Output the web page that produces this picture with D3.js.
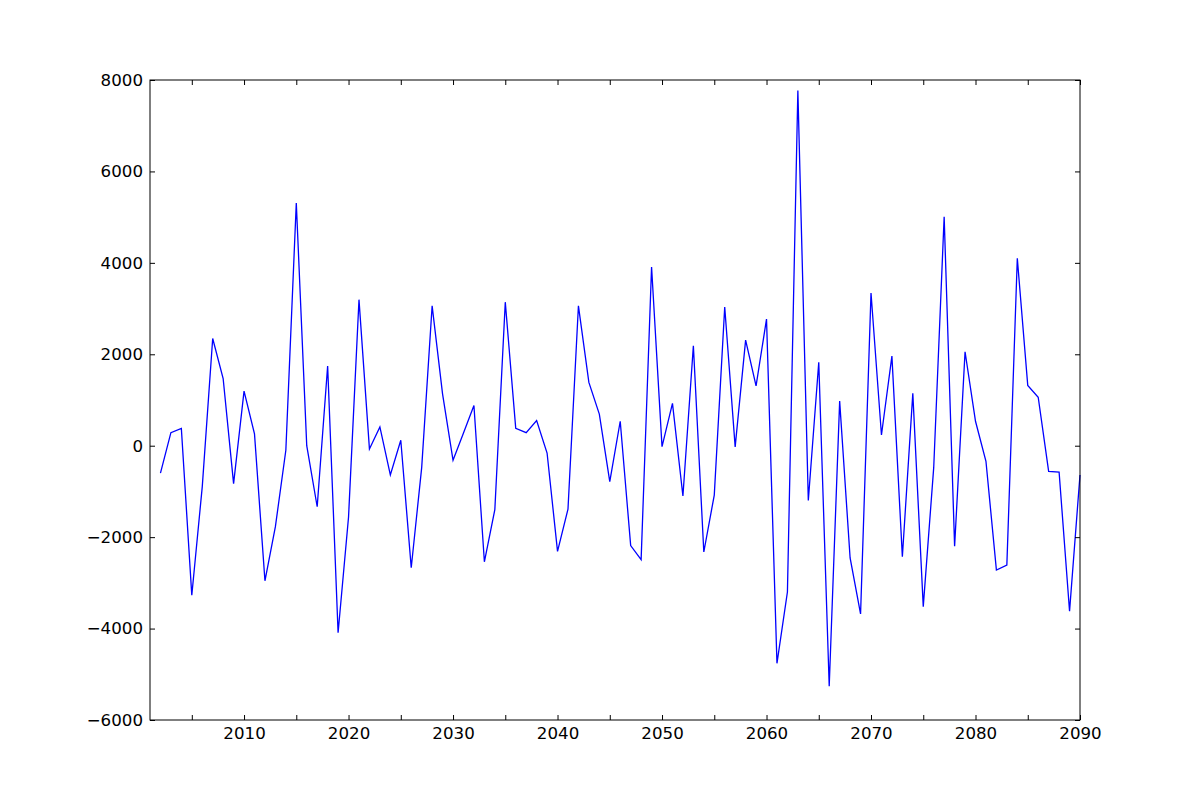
<!DOCTYPE html>
<html>
<head>
<meta charset="utf-8">
<script src="https://cdn.jsdelivr.net/npm/d3@7"></script>
<style>
  html, body { margin: 0; padding: 0; background: #fff; }
  svg { display: block; }
  .axis text { font-family: "DejaVu Sans", sans-serif; font-size: 16.67px; fill: #000; }
  .axis line { stroke: #000; stroke-width: 1; }
  .axis path { display: none; }
</style>
</head>
<body>
<svg id="chart" width="1200" height="800"></svg>
<script>
const years = d3.range(2002, 2091);
const values = [
  -600, 285, 380, -3270, -900, 2345, 1470, -830, 1195, 260,
  -2955, -1770, -100, 5310, 0, -1335, 1745, -4090, -1560, 3195,
  -70, 410, -640, 120, -2670, -480, 3060, 1130, -320, 280,
  880, -2540, -1400, 3140, 380, 285, 550, -160, -2310, -1390,
  3060, 1385, 690, -785, 535, -2185, -2490, 3910, -20, 925,
  -1100, 2185, -2325, -1080, 3035, -25, 2310, 1310, 2770, -4760,
  -3200, 7770, -1200, 1825, -5260, 975, -2455, -3680, 3340, 235,
  1960, -2430, 1145, -3520, -480, 5010, -2200, 2055, 535, -340,
  -2720, -2610, 4100, 1320, 1060, -560, -575, -3620, -640
];
const xTicks = d3.range(2005, 2091, 5);
const xLabelEvery = 10;
const yTicks = [-6000, -4000, -2000, 0, 2000, 4000, 6000, 8000];

const margin = {left: 150, right: 120, top: 80, bottom: 80};
const W = 1200, H = 800;
const iw = W - margin.left - margin.right;
const ih = H - margin.top - margin.bottom;

const svg = d3.select("#chart");
const g = svg.append("g").attr("transform", `translate(${margin.left},${margin.top})`);

const x = d3.scaleLinear().domain([2001, 2090]).range([0, iw]);
const y = d3.scaleLinear().domain([-6000, 8000]).range([ih, 0]);

const data = years.map((yr, i) => ({year: yr, value: values[i]}));

const line = d3.line().x(d => x(d.year)).y(d => y(d.value));
g.append("path")
  .datum(data)
  .attr("fill", "none")
  .attr("stroke", "#0000ff")
  .attr("stroke-width", 1.3)
  .attr("stroke-linejoin", "miter")
  .attr("d", line);

const xfmt = d => (d % xLabelEvery === 0 ? String(d) : "");
const yfmt = d3.format("d");

g.append("g").attr("class", "axis")
  .attr("transform", `translate(0,${ih})`)
  .call(d3.axisBottom(x).tickValues(xTicks).tickFormat(xfmt).tickSizeInner(-5).tickSizeOuter(0).tickPadding(7));
g.append("g").attr("class", "axis")
  .call(d3.axisTop(x).tickValues(xTicks).tickFormat("").tickSizeInner(-5).tickSizeOuter(0));
g.append("g").attr("class", "axis")
  .call(d3.axisLeft(y).tickValues(yTicks).tickFormat(yfmt).tickSizeInner(-5).tickSizeOuter(0).tickPadding(7));
g.append("g").attr("class", "axis")
  .attr("transform", `translate(${iw},0)`)
  .call(d3.axisRight(y).tickValues(yTicks).tickFormat("").tickSizeInner(-5).tickSizeOuter(0));

g.append("rect")
  .attr("x", 0).attr("y", 0).attr("width", iw).attr("height", ih)
  .attr("fill", "none").attr("stroke", "#000").attr("stroke-width", 1);
</script>
</body>
</html>
